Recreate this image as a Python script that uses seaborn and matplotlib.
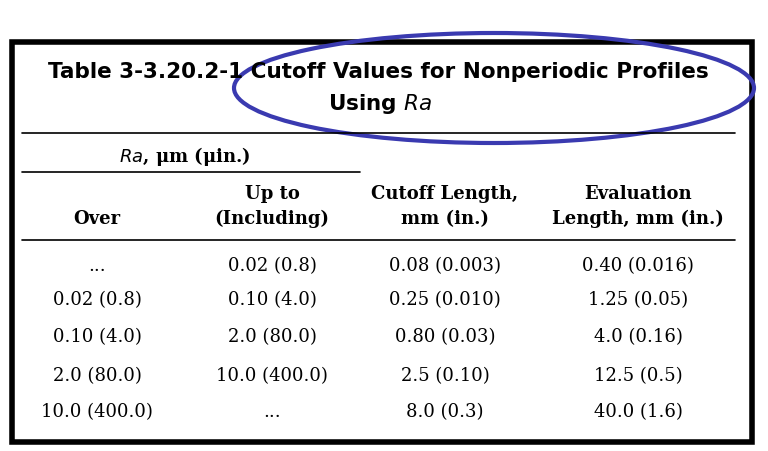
import matplotlib
matplotlib.use("Agg")
import matplotlib.pyplot as plt
import seaborn as sns
from matplotlib.patches import Ellipse, Rectangle

sns.set_theme(style="white")
plt.rcParams['font.family'] = ['DejaVu Serif']
plt.rcParams['text.color'] = 'black'

over = ["...", "0.02 (0.8)", "0.10 (4.0)", "2.0 (80.0)", "10.0 (400.0)"]
up_to = ["0.02 (0.8)", "0.10 (4.0)", "2.0 (80.0)", "10.0 (400.0)", "..."]
cutoff = ["0.08 (0.003)", "0.25 (0.010)", "0.80 (0.03)", "2.5 (0.10)", "8.0 (0.3)"]
evaluation = ["0.40 (0.016)", "1.25 (0.05)", "4.0 (0.16)", "12.5 (0.5)", "40.0 (1.6)"]
headers = ["Over", "Up to\n(Including)", "Cutoff Length,\nmm (in.)", "Evaluation\nLength, mm (in.)"]

fig = plt.figure(figsize=(7.68, 4.51), dpi=100)
ax = fig.add_axes([0, 0, 1, 1])
ax.set_xlim(0, 768); ax.set_ylim(451, 0); ax.axis("off")

ax.add_patch(Rectangle((12, 42), 740, 400, fill=False, lw=4, ec="black"))
ax.text(378, 72, "Table 3-3.20.2-1 Cutoff Values for Nonperiodic Profiles", ha="center", va="center",
        fontsize=15.5, fontweight="bold", family="DejaVu Sans", color="black")
ax.text(380, 104, "Using $\\mathbf{\\it{Ra}}$", ha="center", va="center", fontsize=15.5,
        fontweight="bold", family="DejaVu Sans", color="black")
ax.add_patch(Ellipse((494, 88), 520, 110, fill=False, ec="#3a3ab0", lw=3))
ax.plot([22, 735], [133, 133], color="black", lw=1.2)
ax.text(185, 157, "$\\it{Ra}$, μm (μin.)", ha="center", va="center", fontsize=13, fontweight="bold")
ax.plot([22, 360], [172, 172], color="black", lw=1.2)
ax.plot([22, 735], [240, 240], color="black", lw=1.2)

cx = [97, 272, 445, 638]
for x, h in zip(cx, headers):
    ax.text(x, 224, h, ha="center", va="baseline", fontsize=13, fontweight="bold", linespacing=1.5)
rows_y = [266, 300, 337, 376, 412]
for col, x in zip([over, up_to, cutoff, evaluation], cx):
    for v, y in zip(col, rows_y):
        ax.text(x, y, v, ha="center", va="center", fontsize=13)

fig.savefig("out.png", dpi=100)
